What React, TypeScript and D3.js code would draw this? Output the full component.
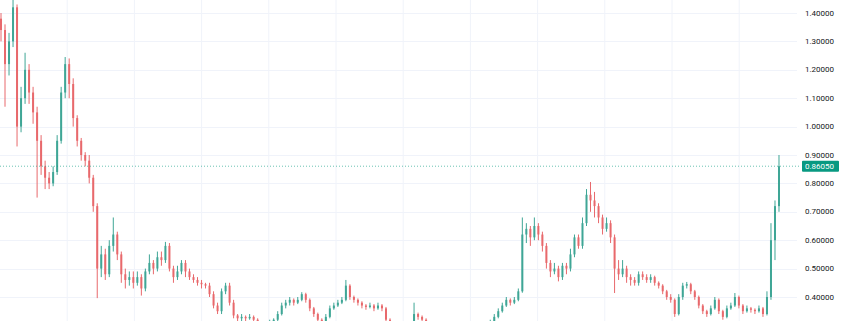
import React from "react";
import * as d3 from "d3";

const W = 845;
const H = 321;

const FIRST_OPEN = 1.38;
const closes = [
  1.34, 1.22, 1.30, 1.42, 1.00, 1.10, 1.20, 1.12, 1.05, 0.95,
  0.86, 0.82, 0.80, 0.84, 0.95, 1.12, 1.22, 1.15, 1.03, 0.95,
  0.90, 0.88, 0.82, 0.72, 0.50, 0.55, 0.48, 0.58, 0.62, 0.55,
  0.48, 0.46, 0.47, 0.45, 0.47, 0.43, 0.49, 0.52, 0.50, 0.54,
  0.53, 0.58, 0.50, 0.47, 0.49, 0.52, 0.49, 0.47, 0.46, 0.45,
  0.445, 0.44, 0.41, 0.37, 0.35, 0.42, 0.44, 0.38, 0.335, 0.325,
  0.33, 0.325, 0.33, 0.32, 0.31, 0.30, 0.30, 0.31, 0.32, 0.34,
  0.37, 0.38, 0.39, 0.38, 0.39, 0.41, 0.39, 0.36, 0.34, 0.32,
  0.31, 0.33, 0.36, 0.37, 0.38, 0.39, 0.44, 0.40, 0.39, 0.38,
  0.37, 0.365, 0.37, 0.36, 0.37, 0.36, 0.32, 0.30, 0.29, 0.28,
  0.28, 0.29, 0.30, 0.34, 0.33, 0.32, 0.30, 0.29, 0.28, 0.27,
  0.28, 0.27, 0.26, 0.27, 0.28, 0.27, 0.26, 0.27, 0.28, 0.29,
  0.29, 0.30, 0.31, 0.33, 0.35, 0.37, 0.39, 0.38, 0.39, 0.42,
  0.62, 0.64, 0.61, 0.65, 0.62, 0.58, 0.52, 0.49, 0.50, 0.47,
  0.51, 0.50, 0.55, 0.61, 0.58, 0.66, 0.76, 0.74, 0.72, 0.68,
  0.64, 0.66, 0.61, 0.50, 0.48, 0.50, 0.47, 0.46, 0.45, 0.48,
  0.47, 0.46, 0.47, 0.45, 0.44, 0.42, 0.40, 0.39, 0.34, 0.40,
  0.44, 0.445, 0.42, 0.40, 0.37, 0.35, 0.34, 0.36, 0.39, 0.35,
  0.33, 0.36, 0.37, 0.40, 0.37, 0.35, 0.36, 0.355, 0.35, 0.36,
  0.34, 0.40, 0.60, 0.72, 0.8605,
];
const highs = [
  1.40, 1.36, 1.33, 1.446, 1.43, 1.14, 1.26, 1.22, 1.14, 1.07,
  0.97, 0.88, 0.84, 0.86, 0.97, 1.14, 1.245, 1.24, 1.17, 1.04,
  0.96, 0.91, 0.90, 0.83, 0.73, 0.58, 0.57, 0.60, 0.68, 0.63,
  0.56, 0.50, 0.49, 0.49, 0.49, 0.48, 0.50, 0.55, 0.53, 0.56,
  0.56, 0.594, 0.59, 0.51, 0.51, 0.53, 0.53, 0.50, 0.48, 0.47,
  0.46, 0.45, 0.45, 0.42, 0.38, 0.43, 0.45, 0.45, 0.39, 0.34,
  0.34, 0.335, 0.34, 0.335, 0.325, 0.315, 0.31, 0.32, 0.325, 0.35,
  0.38, 0.39, 0.40, 0.395, 0.40, 0.417, 0.415, 0.395, 0.365, 0.345,
  0.325, 0.34, 0.37, 0.38, 0.39, 0.40, 0.46, 0.445, 0.405, 0.395,
  0.385, 0.375, 0.38, 0.375, 0.38, 0.375, 0.365, 0.325, 0.305, 0.295,
  0.29, 0.30, 0.31, 0.38, 0.345, 0.335, 0.325, 0.305, 0.295, 0.285,
  0.29, 0.285, 0.275, 0.28, 0.29, 0.285, 0.275, 0.28, 0.29, 0.30,
  0.30, 0.31, 0.32, 0.34, 0.36, 0.38, 0.40, 0.395, 0.40, 0.43,
  0.68, 0.66, 0.65, 0.68, 0.66, 0.63, 0.59, 0.53, 0.52, 0.51,
  0.52, 0.52, 0.57, 0.62, 0.62, 0.68, 0.78, 0.805, 0.77, 0.73,
  0.69, 0.68, 0.67, 0.62, 0.53, 0.53, 0.51, 0.48, 0.47, 0.49,
  0.49, 0.48, 0.48, 0.475, 0.455, 0.445, 0.425, 0.41, 0.395, 0.41,
  0.45, 0.453, 0.45, 0.425, 0.405, 0.375, 0.355, 0.37, 0.40, 0.395,
  0.355, 0.37, 0.38, 0.414, 0.405, 0.375, 0.37, 0.365, 0.36, 0.37,
  0.365, 0.42, 0.66, 0.74, 0.90,
];
const lows = [
  1.30, 1.07, 1.18, 1.28, 0.93, 0.98, 1.08, 1.08, 1.01, 0.75,
  0.83, 0.78, 0.78, 0.79, 0.83, 0.94, 1.10, 1.10, 1.00, 0.93,
  0.88, 0.86, 0.80, 0.70, 0.396, 0.47, 0.46, 0.47, 0.56, 0.53,
  0.45, 0.43, 0.44, 0.43, 0.44, 0.405, 0.42, 0.48, 0.48, 0.49,
  0.51, 0.52, 0.49, 0.45, 0.46, 0.48, 0.47, 0.46, 0.45, 0.44,
  0.43, 0.43, 0.40, 0.36, 0.34, 0.34, 0.41, 0.37, 0.325, 0.315,
  0.315, 0.315, 0.32, 0.31, 0.30, 0.29, 0.29, 0.295, 0.305, 0.315,
  0.335, 0.36, 0.37, 0.37, 0.375, 0.385, 0.38, 0.35, 0.33, 0.31,
  0.30, 0.305, 0.325, 0.355, 0.365, 0.375, 0.385, 0.39, 0.38, 0.37,
  0.36, 0.355, 0.36, 0.35, 0.355, 0.35, 0.31, 0.29, 0.28, 0.27,
  0.27, 0.275, 0.285, 0.295, 0.32, 0.31, 0.29, 0.28, 0.27, 0.26,
  0.265, 0.26, 0.25, 0.255, 0.265, 0.26, 0.25, 0.255, 0.265, 0.275,
  0.28, 0.285, 0.295, 0.305, 0.325, 0.345, 0.365, 0.37, 0.375, 0.385,
  0.415, 0.59, 0.58, 0.60, 0.60, 0.56, 0.50, 0.47, 0.48, 0.455,
  0.46, 0.48, 0.49, 0.54, 0.57, 0.57, 0.65, 0.70, 0.68, 0.66,
  0.62, 0.63, 0.59, 0.414, 0.46, 0.47, 0.45, 0.44, 0.44, 0.44,
  0.46, 0.45, 0.45, 0.44, 0.43, 0.41, 0.39, 0.38, 0.33, 0.335,
  0.39, 0.43, 0.41, 0.39, 0.36, 0.34, 0.33, 0.335, 0.355, 0.34,
  0.32, 0.325, 0.355, 0.365, 0.36, 0.34, 0.345, 0.345, 0.34, 0.345,
  0.33, 0.335, 0.39, 0.53, 0.70,
];

const priceTicks = [0.4, 0.5, 0.6, 0.7, 0.8, 0.9, 1.0, 1.1, 1.2, 1.3, 1.4];
const lastPrice = 0.8605;
const lastPriceLabel = "0.86050";
const timeGridCount = 12;

const UP = "#3fa696";
const DOWN = "#e8696c";
const GRID = "#f0f3fa";

type Candle = { i: number; o: number; h: number; l: number; c: number };
const candles: Candle[] = closes.map((c, i) => ({
  i,
  o: i === 0 ? FIRST_OPEN : closes[i - 1],
  h: highs[i],
  l: lows[i],
  c,
}));

export default function App() {
  const plotRight = 797;
  const y = d3.scaleLinear().domain([0.4, 1.4]).range([297, 13]);
  const x = d3
    .scaleBand<number>()
    .domain(candles.map((d) => d.i))
    .range([0, 780])
    .paddingInner(0.5);
  const gx = d3.scaleLinear().domain([0, 1]).range([0, 67.2]);
  const bw = x.bandwidth();
  const step = x.step();

  return (
    <svg
      width={W}
      height={H}
      style={{ position: "fixed", left: 0, top: 0, background: "#ffffff" }}
      fontFamily="Roboto, 'Liberation Sans', Arial, sans-serif"
    >
      <defs>
        <clipPath id="plot">
          <rect x={0} y={0} width={plotRight} height={H} />
        </clipPath>
      </defs>
      <rect x={0} y={0} width={W} height={H} fill="#ffffff" />
      <g>
        {d3.range(1, timeGridCount).map((k) => (
          <line
            key={"v" + k}
            x1={gx(k)}
            x2={gx(k)}
            y1={0}
            y2={H}
            stroke={GRID}
            strokeWidth={1}
          />
        ))}
        {priceTicks.map((p) => (
          <line
            key={"h" + p}
            x1={0}
            x2={plotRight}
            y1={Math.round(y(p)) + 0.5}
            y2={Math.round(y(p)) + 0.5}
            stroke={GRID}
            strokeWidth={1}
          />
        ))}
      </g>
      <g clipPath="url(#plot)">
        {candles.map((d) => {
          const cx = (x(d.i) as number) - (step - bw) / 2 + step / 2;
          const up = d.c >= d.o;
          const col = up ? UP : DOWN;
          const top = y(Math.max(d.o, d.c));
          const bot = y(Math.min(d.o, d.c));
          return (
            <g key={d.i}>
              <line x1={cx} x2={cx} y1={y(d.h)} y2={y(d.l)} stroke={col} strokeWidth={1} />
              <rect
                x={cx - bw / 2}
                y={top}
                width={bw}
                height={Math.max(1, bot - top)}
                fill={col}
              />
            </g>
          );
        })}
      </g>
      <line
        x1={0}
        x2={801}
        y1={y(lastPrice)}
        y2={y(lastPrice)}
        stroke="#089981"
        strokeOpacity={0.6}
        strokeWidth={1}
        strokeDasharray="1 2"
      />
      <g fontSize={8} fill="#131722">
        {priceTicks.map((p) => (
          <text key={"t" + p} x={805} y={y(p)} dominantBaseline="central">
            {d3.format(".5f")(p)}
          </text>
        ))}
      </g>
      <rect x={802} y={y(lastPrice) - 5.5} width={37} height={11} rx={1} fill="#089981" />
      <text
        x={805}
        y={y(lastPrice)}
        fontSize={8}
        fill="#ffffff"
        dominantBaseline="central"
      >
        {lastPriceLabel}
      </text>
    </svg>
  );
}
